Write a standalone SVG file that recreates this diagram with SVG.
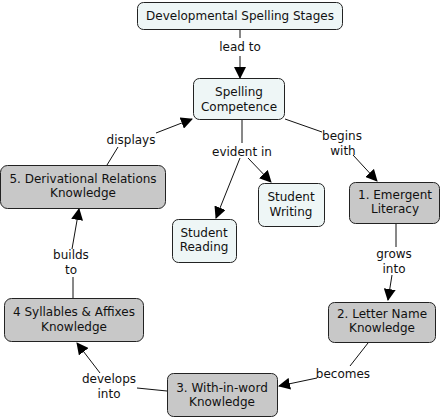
<svg xmlns="http://www.w3.org/2000/svg" width="442" height="418" viewBox="0 0 442 418">
<defs>
<style>
.n rect{stroke:#222;stroke-width:1;}
.lt rect{fill:#eef6f6;}
.gr rect{fill:#c8c8c8;}
text{font-family:"DejaVu Sans",Verdana,sans-serif;font-size:12px;fill:#111;text-anchor:middle;}
.e line,.e polyline{stroke:#111;stroke-width:1;fill:none;}
.a{marker-end:url(#ah);}
</style>
<marker id="ah" markerUnits="userSpaceOnUse" markerWidth="12" markerHeight="12" viewBox="0 0 12 12" refX="11" refY="6" orient="auto">
<path d="M0,0 L12,6 L0,12 Z" fill="#000"/>
</marker>
</defs>
<rect width="442" height="418" fill="#fff"/>
<g id="edges" class="e">
<line x1="240" y1="30" x2="240" y2="38"/>
<line class="a" x1="240" y1="56" x2="240" y2="78"/>
<line x1="107" y1="165" x2="118" y2="147"/>
<line class="a" x1="156" y1="133" x2="192" y2="119"/>
<line x1="242" y1="119" x2="242" y2="143"/>
<line class="a" x1="240" y1="158" x2="216" y2="218"/>
<line class="a" x1="248" y1="158" x2="271" y2="182"/>
<line x1="285" y1="119" x2="322" y2="132"/>
<line class="a" x1="353" y1="155" x2="377" y2="181"/>
<line x1="396" y1="223" x2="396" y2="247"/>
<line class="a" x1="392" y1="275" x2="388" y2="300"/>
<line x1="368" y1="343" x2="350" y2="366"/>
<line class="a" x1="317" y1="378" x2="279" y2="386"/>
<line x1="167" y1="391" x2="137" y2="388"/>
<line class="a" x1="100" y1="373" x2="77" y2="343"/>
<line x1="73" y1="298" x2="73" y2="277"/>
<line class="a" x1="72" y1="249" x2="79" y2="209"/>
</g>
<g id="edge-labels">
<text x="240" y="51">lead to</text>
<text x="131" y="144">displays</text>
<text x="242" y="156">evident in</text>
<text x="342" y="140">begins</text>
<text x="343" y="155">with</text>
<text x="394" y="258">grows</text>
<text x="394" y="273">into</text>
<text x="343" y="378">becomes</text>
<text x="109" y="383">develops</text>
<text x="109" y="398">into</text>
<text x="71" y="259">builds</text>
<text x="71" y="274">to</text>
</g>
<g id="n-dss" class="n lt"><rect x="137.5" y="2.5" width="205" height="27" rx="6"/><text x="240" y="20">Developmental Spelling Stages</text></g>
<g id="n-sc" class="n lt"><rect x="193.5" y="78.5" width="91" height="41" rx="6"/><text x="239" y="96">Spelling</text><text x="239" y="111">Competence</text></g>
<g id="n-5" class="n gr"><rect x="0.5" y="165.5" width="165" height="43" rx="7"/><text x="83" y="183">5. Derivational Relations</text><text x="83" y="197">Knowledge</text></g>
<g id="n-read" class="n lt"><rect x="172.5" y="219.5" width="64" height="43" rx="6"/><text x="204" y="237">Student</text><text x="204" y="251">Reading</text></g>
<g id="n-write" class="n lt"><rect x="258.5" y="183.5" width="66" height="43" rx="6"/><text x="291" y="201">Student</text><text x="291" y="216">Writing</text></g>
<g id="n-1" class="n gr"><rect x="349.5" y="182.5" width="90" height="41" rx="6"/><text x="395" y="199">1. Emergent</text><text x="395" y="213">Literacy</text></g>
<g id="n-4" class="n gr"><rect x="4.5" y="298.5" width="139" height="43" rx="7"/><text x="74" y="316">4 Syllables &amp; Affixes</text><text x="74" y="331">Knowledge</text></g>
<g id="n-2" class="n gr"><rect x="328.5" y="302.5" width="107" height="40" rx="6"/><text x="382" y="318">2. Letter Name</text><text x="382" y="332">Knowledge</text></g>
<g id="n-3" class="n gr"><rect x="167.5" y="373.5" width="110" height="43" rx="6"/><text x="222" y="392">3. With-in-word</text><text x="222" y="406">Knowledge</text></g>
</svg>
